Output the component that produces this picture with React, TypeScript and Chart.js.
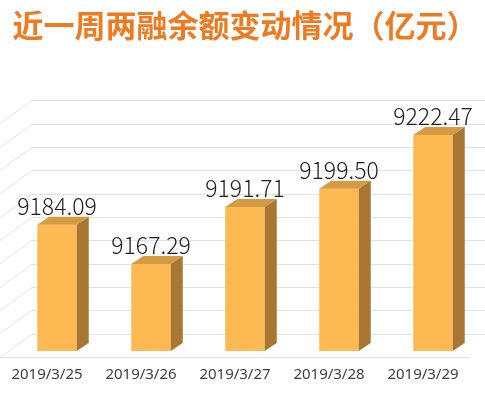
import React, { useEffect, useRef } from "react";
import { Chart, registerables } from "chart.js";

Chart.register(...registerables);

const categories = ["2019/3/25", "2019/3/26", "2019/3/27", "2019/3/28", "2019/3/29"];
const balances = [9184.09, 9167.29, 9191.71, 9199.5, 9222.47];
const valueLabels = ["9184.09", "9167.29", "9191.71", "9199.50", "9222.47"];
const axisMin = 9130;
const axisMax = 9240;
const axisStep = 10;
const titleText = "近一周两融余额变动情况（亿元）";

const FRONT = "#FDBA52";
const TOP = "#D49B43";
const SIDE = "#A97733";
const GRID = "#e3e3e3";
const DX = 12;
const DY = 8;

const threeD = {
  id: "threeD",
  beforeDatasetsDraw(chart: any) {
    const ctx = chart.ctx;
    const ys = chart.scales.y;
    ctx.save();
    ctx.strokeStyle = GRID;
    ctx.lineWidth = 1;
    for (let v = axisMin + axisStep; v <= axisMax + 0.001; v += axisStep) {
      const y = Math.round(ys.getPixelForValue(v) + 6) + 0.5;
      ctx.beginPath();
      ctx.moveTo(0, y + 23);
      ctx.lineTo(32, y);
      ctx.lineTo(485, y);
      ctx.stroke();
    }
    const fy = Math.round(ys.getPixelForValue(axisMin) + 6) + 0.5;
    ctx.beginPath();
    ctx.moveTo(0, fy);
    ctx.lineTo(470, fy);
    ctx.stroke();
    ctx.restore();
  },
  afterDatasetsDraw(chart: any) {
    const ctx = chart.ctx;
    const meta = chart.getDatasetMeta(0);
    const bottom = chart.chartArea.bottom;
    ctx.save();
    meta.data.forEach((el: any, i: number) => {
      const { x, y, base, width } = el.getProps(["x", "y", "base", "width"], true);
      const b = Math.min(base, bottom);
      const x0 = x - width / 2;
      const x1 = x + width / 2;
      ctx.fillStyle = TOP;
      ctx.beginPath();
      ctx.moveTo(x0, y);
      ctx.lineTo(x1, y);
      ctx.lineTo(x1 + DX, y - DY);
      ctx.lineTo(x0 + DX, y - DY);
      ctx.closePath();
      ctx.fill();
      ctx.fillStyle = SIDE;
      ctx.beginPath();
      ctx.moveTo(x1, y);
      ctx.lineTo(x1 + DX, y - DY);
      ctx.lineTo(x1 + DX, b - DY);
      ctx.lineTo(x1, b);
      ctx.closePath();
      ctx.fill();
      ctx.fillStyle = "#1e1e1e";
      ctx.font = "300 23px 'Noto Sans CJK SC', 'Noto Sans', sans-serif";
      ctx.textAlign = "center";
      ctx.textBaseline = "alphabetic";
      ctx.fillText(valueLabels[i], x, y - 10);
    });
    ctx.restore();
  },
};

export default function App() {
  const ref = useRef<HTMLCanvasElement>(null);
  useEffect(() => {
    if (!ref.current) return;
    const chart = new Chart(ref.current, {
      type: "bar",
      data: {
        labels: categories,
        datasets: [
          {
            data: balances,
            backgroundColor: FRONT,
            borderWidth: 0,
            barPercentage: 0.42,
            categoryPercentage: 1,
          },
        ],
      },
      options: {
        animation: false,
        responsive: true,
        maintainAspectRatio: false,
        layout: { padding: { left: 10, right: 5, top: 0, bottom: 0 } },
        plugins: {
          legend: { display: false },
          tooltip: { enabled: false },
          title: {
            display: true,
            text: titleText,
            color: "#EE7A22",
            font: { size: 31, weight: "bold", family: "'Noto Sans CJK SC', sans-serif" },
            padding: { top: 7, bottom: 50 },
          },
        },
        scales: {
          x: {
            grid: { display: false, drawTicks: false },
            border: { display: false },
            afterFit: (scale: any) => {
              scale.height = 52;
            },
            ticks: {
              color: "#404040",
              font: { size: 15, family: "'Noto Sans', sans-serif" },
              padding: 15,
              labelOffset: -10,
              maxRotation: 0,
            },
          },
          y: {
            display: false,
            min: axisMin,
            max: axisMax,
            ticks: { stepSize: axisStep },
          },
        },
      },
      plugins: [threeD],
    });
    return () => chart.destroy();
  }, []);
  return (
    <div style={{ position: "absolute", left: 0, top: 0, width: 485, height: 403, background: "#fff" }}>
      <canvas ref={ref} />
    </div>
  );
}
